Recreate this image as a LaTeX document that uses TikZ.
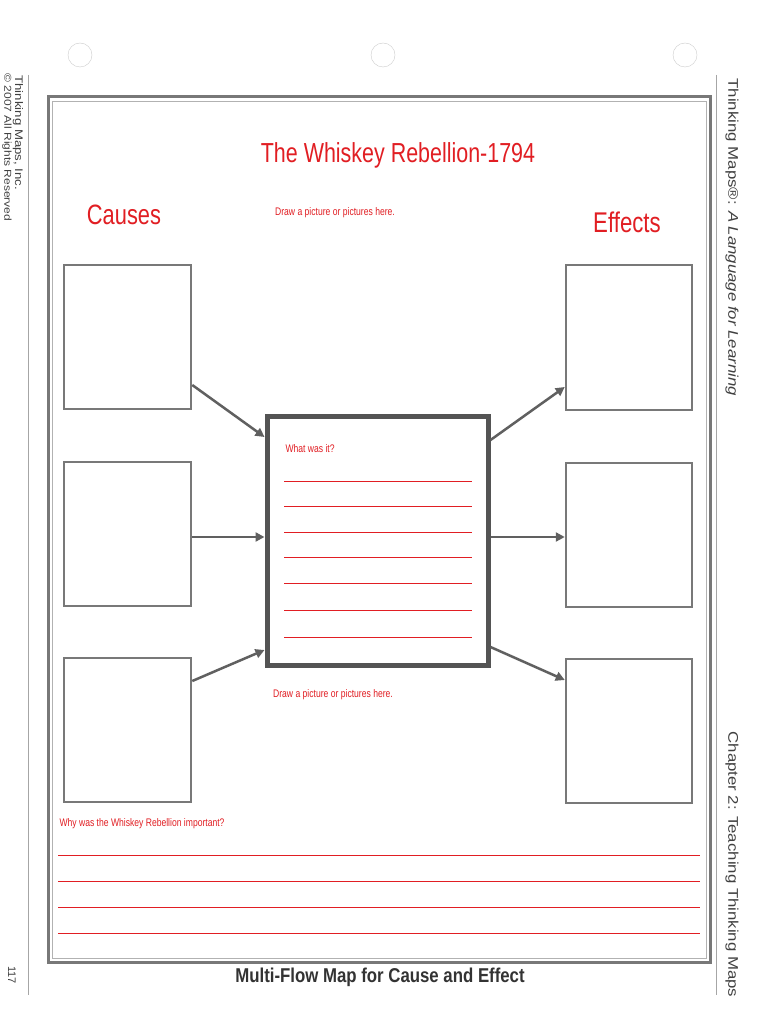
\documentclass[tikz,border=0pt]{standalone}
\usepackage{fontspec}
\setmainfont{Liberation Sans}
\newfontfamily\narrowfont[FakeStretch=0.78]{Liberation Sans}
\newfontfamily\footfont[FakeStretch=0.84]{Liberation Sans}
\newfontfamily\widefont[FakeStretch=1.2]{Liberation Sans}
\usetikzlibrary{arrows.meta}
\definecolor{myred}{RGB}{225,30,35}
\definecolor{frame}{RGB}{120,120,120}
\begin{document}
\begin{tikzpicture}[x=1pt,y=-1pt,
  box/.style={draw=frame,line width=2.5pt},
  arr/.style={draw=frame!80!black,line width=2.5pt,-{Triangle[length=9pt,width=9pt]}},
  redline/.style={draw=myred,line width=1pt},
  redtxt/.style={text=myred,font=\narrowfont}]
\useasboundingbox (0,0) rectangle (768,1024);
\fill[white] (0,0) rectangle (768,1024);
\foreach \x [count=\i] in {80,383,685}{\draw[gray!40] (\x,55) circle (12);}
\draw[frame,line width=3pt] (48,97) rectangle (710,962);
\draw[gray!60,line width=0.6pt] (52,101) rectangle (706,958);
\draw[gray!70] (28,75) -- (28,995);
\draw[gray!70] (716,75) -- (716,995);
\node[redtxt,font=\narrowfont\fontsize{27.5}{30}\selectfont] (title) at (398,155) {The Whiskey Rebellion-1794};
\node[redtxt,font=\narrowfont\fontsize{28}{30}\selectfont] (causes) at (124,215) {Causes};
\node[redtxt,font=\narrowfont\fontsize{28.5}{30}\selectfont] (effects) at (627,222) {Effects};
\node[redtxt,font=\narrowfont\fontsize{11}{12}\selectfont] (d1) at (335,213) {Draw a picture or pictures here.};
\node[redtxt,font=\narrowfont\fontsize{11}{12}\selectfont] (d2) at (333,695) {Draw a picture or pictures here.};
\node[box,minimum width=127pt,minimum height=144pt] (L1) at (127.5,337) {};
\node[box,minimum width=127pt,minimum height=144pt] (L2) at (127.5,534) {};
\node[box,minimum width=127pt,minimum height=144pt] (L3) at (127.5,730) {};
\node[box,minimum width=126pt,minimum height=145pt] (R1) at (629,337.5) {};
\node[box,minimum width=126pt,minimum height=144pt] (R2) at (629,535) {};
\node[box,minimum width=126pt,minimum height=144pt] (R3) at (629,731) {};
\node[draw=frame!70!black,line width=5pt,minimum width=221pt,minimum height=249pt] (C) at (377.5,540.5) {};
\node[redtxt,font=\narrowfont\fontsize{11}{12}\selectfont,anchor=west] (q1) at (282,449) {What was it?};
\foreach \y in {481,506,532,557,583,610,637}{\draw[redline] (284,\y) -- (472,\y);}
\draw[arr] (L1.east |- 0,385) -- (C.west |- 0,437);
\draw[arr] (L2.east |- 0,537) -- (C.west |- 0,537);
\draw[arr] (L3.east |- 0,681) -- (C.west |- 0,650);
\draw[arr] (C.east |- 0,440) -- (R1.west |- 0,387);
\draw[arr] (C.east |- 0,537) -- (R2.west |- 0,537);
\draw[arr] (C.east |- 0,647) -- (R3.west |- 0,680);
\node[redtxt,font=\narrowfont\fontsize{11}{12}\selectfont,anchor=west] (q2) at (56,824) {Why was the Whiskey Rebellion important?};
\foreach \y in {855,881,907,933}{\draw[redline] (58,\y) -- (700,\y);}
\node[font=\footfont\bfseries\fontsize{20}{22}\selectfont,text=black!80] (foot) at (380,977) {Multi-Flow Map for Cause and Effect};
\node[rotate=-90,anchor=west,font=\widefont\fontsize{11}{12}\selectfont,text=black!75] (tm) at (18,72) {T\scshape hinking \upshape M\scshape aps\upshape, I\scshape nc.};
\node[rotate=-90,anchor=west,font=\widefont\fontsize{10}{11}\selectfont,text=black!75] (cr) at (7,70) {© 2007 All Rights Reserved};
\node[rotate=-90,font=\fontsize{11}{12}\selectfont,text=black!75] (pg) at (12,975) {117};
\node[rotate=-90,anchor=west,font=\widefont\fontsize{14}{16}\selectfont,text=black!75] (r1) at (732,75) {Thinking Maps®: \itshape A Language for Learning};
\node[rotate=-90,anchor=west,font=\widefont\fontsize{14}{16}\selectfont,text=black!75] (r2) at (732,728) {Chapter 2: Teaching Thinking Maps};
\end{tikzpicture}
\end{document}
